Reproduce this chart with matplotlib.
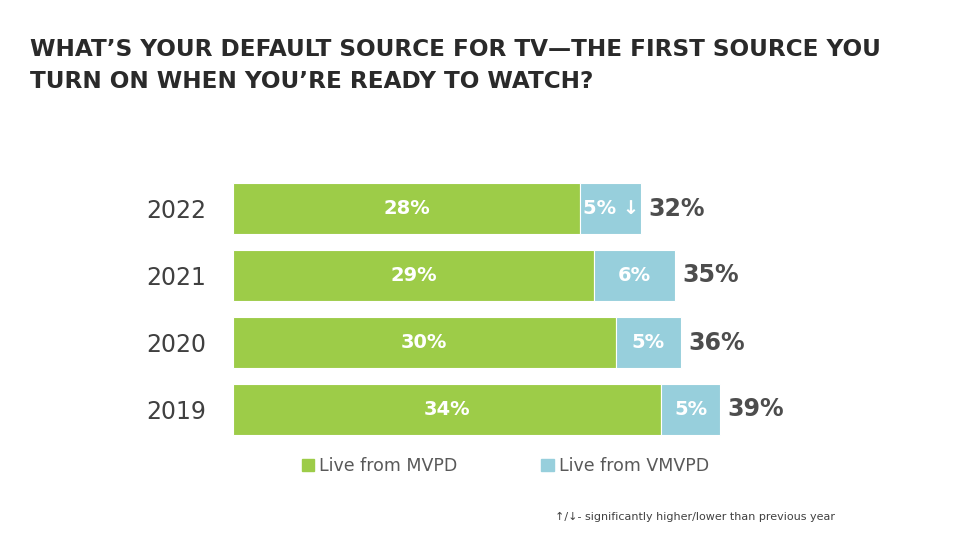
import matplotlib.pyplot as plt
import numpy as np

years = ['2019', '2020', '2021', '2022']
mvpd = [34.0, 30.4, 28.7, 27.6]
vmvpd = [4.7, 5.2, 6.4, 4.8]
sig_marks = ['', '', '', ' \u2193']

green = '#9DCC48'
blue = '#97CFDC'

fig = plt.figure(figsize=(9.6, 5.4), dpi=100)
ax = fig.add_axes([233/960, 97/540, 629.5/960, 268/540])

y = np.arange(len(years))
ax.barh(y, mvpd, height=0.76, color=green, edgecolor='white', linewidth=0.8)
ax.barh(y, vmvpd, left=mvpd, height=0.76, color=blue, edgecolor='white', linewidth=0.8)

for i in range(len(years)):
    tot = mvpd[i] + vmvpd[i]
    ax.text(mvpd[i] / 2, y[i], f'{mvpd[i]:.0f}%', ha='center', va='center',
            color='white', fontsize=14, fontweight='bold')
    ax.text(mvpd[i] + vmvpd[i] / 2, y[i], f'{vmvpd[i]:.0f}%' + sig_marks[i],
            ha='center', va='center', color='white', fontsize=14, fontweight='bold')
    ax.text(tot + 0.6, y[i], f'{tot:.0f}%', ha='left', va='center',
            color='#4d4d4d', fontsize=17, fontweight='bold')

ax.set_xlim(0, 50)
ax.set_ylim(-0.5, 3.5)
ax.set_yticks(y)
ax.set_yticklabels(years, fontsize=17, color='#404040')
ax.tick_params(axis='y', length=0, pad=19)
ax.set_xticks([])
for s in ax.spines.values():
    s.set_visible(False)

# legend
h1 = plt.Rectangle((0, 0), 1, 1, color=green)
h2 = plt.Rectangle((0, 0), 1, 1, color=blue)
fig.legend([h1, h2], ['Live from MVPD', 'Live from VMVPD'], loc='center left',
           bbox_to_anchor=(286/960, 1 - 466/540), ncol=2, frameon=False,
           fontsize=12.5, labelcolor='#595959', handlelength=0.7, handleheight=0.7,
           handletextpad=0.3, columnspacing=4.85)

fig.text(30/960, 1 - 50/540, 'WHAT\u2019S YOUR DEFAULT SOURCE FOR TV\u2014THE FIRST SOURCE YOU',
         fontsize=16.7, fontweight='bold', color='#2a2a2a', va='center')
fig.text(30/960, 1 - 82/540, 'TURN ON WHEN YOU\u2019RE READY TO WATCH?',
         fontsize=16.7, fontweight='bold', color='#2a2a2a', va='center')

fig.text(555/960, 1 - 517/540, '\u2191/\u2193- significantly higher/lower than previous year',
         fontsize=8, color='#404040', va='center')

fig.savefig('out.png', dpi=100)
